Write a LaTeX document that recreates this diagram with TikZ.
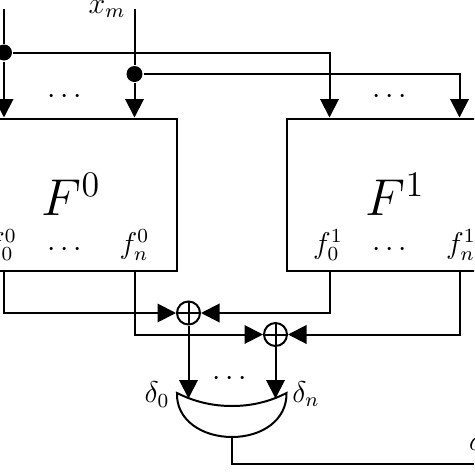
\documentclass[tikz,border=0pt]{standalone}
\usepackage{amsmath, amssymb}
\usetikzlibrary{arrows.meta}

\begin{document}
\begin{tikzpicture}[
    x=0.4pt, y=-0.4pt,
    line width=0.8pt,
    block/.style = {draw, minimum width=220pt, minimum height=60.8pt, inner sep=0pt, anchor=north east},
    dot/.style = {circle, fill, inner sep=0pt, minimum size=6.4pt},
    xorgate/.style = {circle, draw, inner sep=0pt, minimum size=9.2pt,
      path picture={\draw (path picture bounding box.north) -- (path picture bounding box.south)
        (path picture bounding box.west) -- (path picture bounding box.east);}},
    wire/.style = {-{Triangle[length=7.4pt, width=7.4pt]}},
    lbl/.style = {inner sep=0pt, font=\fontsize{11.5}{13}\selectfont}
  ]
  \useasboundingbox (0, 0) rectangle (474, 474);
  \clip (0, 0) rectangle (474, 474);

  % the two blocks run off the page on their outer sides
  \node[block] (fzero) at (178, 117.5) {};
  \node[block, anchor=north west] (fone) at (286, 117.5) {};
  \node[lbl, font=\huge] (fzerolbl) at (71, 194) {$F^0$};
  \node[lbl, font=\huge] (fonelbl)  at (395, 194) {$F^1$};

  % free ends and corners
  \coordinate (inzero) at (4, 9);
  \coordinate (inm)    at (134.5, 9);
  \node[dot] (dotzero) at (4, 52.5) {};
  \node[dot] (dotm)    at (134.5, 74) {};
  \coordinate (azero) at (4, 117.5);
  \coordinate (am)    at (134.5, 117.5);
  \coordinate (bzero) at (329.5, 117.5);
  \coordinate (bm)    at (459.5, 117.5);

  \coordinate (fzeroa) at (4, 269.5);
  \coordinate (fzerob) at (134.5, 269.5);
  \coordinate (fonea)  at (329.5, 269.5);
  \coordinate (foneb)  at (459.5, 269.5);

  \node[xorgate] (xora) at (188.5, 313) {};
  \node[xorgate] (xorb) at (275.5, 334.5) {};

  % gate at the bottom
  \coordinate (gl) at (177, 393);
  \coordinate (gr) at (286.5, 393);
  \coordinate (gb) at (232, 437);
  \coordinate (ga) at (188.5, 398.5);
  \coordinate (gc) at (275.5, 398.5);
  \coordinate (gout) at (474, 464);
  \draw (gl) .. controls (195, 402) and (213, 406) .. (232, 406)
             .. controls (251, 406) and (269, 402) .. (gr)
             .. controls (287, 420) and (262, 437) .. (gb)
             .. controls (202, 437) and (176, 420) .. (gl) -- cycle;
  \draw (gb) -- (232, 464) -- (gout);

  % inputs
  \draw (inzero) -- (dotzero);
  \draw (inm) -- (dotm);
  \draw[wire] (dotzero) -- (azero);
  \draw[wire] (dotm) -- (am);
  \draw[wire] (dotzero) -| (bzero);
  \draw[wire] (dotm) -| (bm);

  % outputs
  \draw[wire] (fzeroa) |- (xora);
  \draw[wire] (fzerob) |- (xorb);
  \draw[wire] (fonea) |- (xora);
  \draw[wire] (foneb) |- (xorb);
  \draw[wire] (xora) -- (ga);
  \draw[wire] (xorb) -- (gc);

  % labels
  \node[lbl] (xmlbl) at (107, 9) {$x_m$};
  \node[lbl] (dinzero) at (67, 97) {$\cdots$};
  \node[lbl] (dinone)  at (392, 97) {$\cdots$};
  \node[lbl] (doutzero) at (67, 250) {$\cdots$};
  \node[lbl] (doutone)  at (392, 250) {$\cdots$};
  \node[lbl] (dgate) at (232, 379) {$\cdots$};
  \node[lbl] (fzz) at (2, 245) {$f_0^0$};
  \node[lbl] (fzn) at (134.5, 245) {$f_n^0$};
  \node[lbl] (foz) at (328, 245) {$f_0^1$};
  \node[lbl] (fon) at (461, 245) {$f_n^1$};
  \node[lbl] (dz) at (157, 394.5) {$\delta_0$};
  \node[lbl] (dn) at (306, 394) {$\delta_n$};
  \node[lbl, anchor=west] (outlbl) at (468, 444) {$\sigma$};
\end{tikzpicture}
\end{document}
